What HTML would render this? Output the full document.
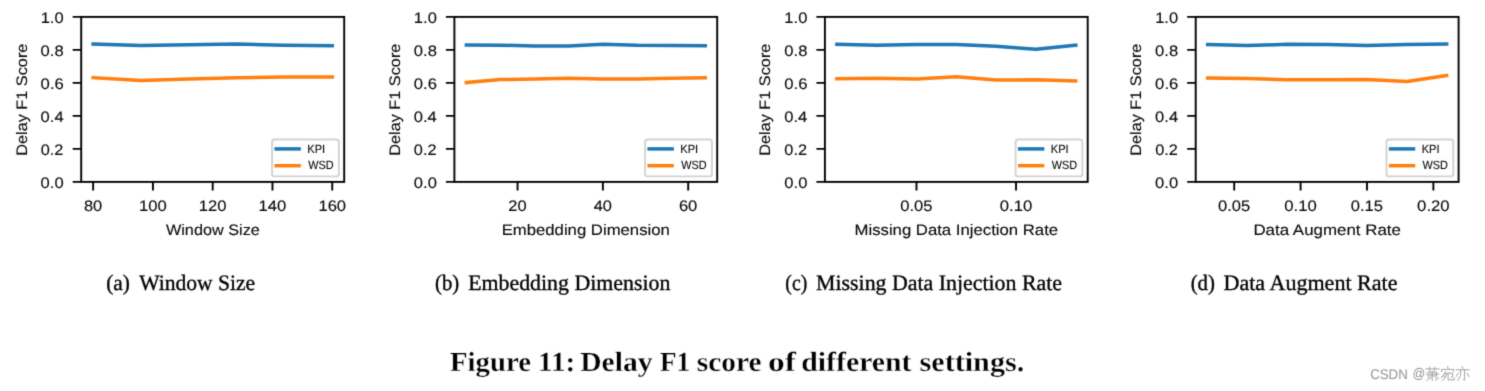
<!DOCTYPE html>
<html><head><meta charset="utf-8"><title>Figure 11</title><style>
html,body{margin:0;padding:0;background:#fff;}
body{width:1485px;height:391px;overflow:hidden;font-family:"Liberation Sans",sans-serif;}
svg{display:block;position:absolute;left:0;top:0;}
text{text-rendering:geometricPrecision;}
.m{stroke:#000;stroke-width:0.12px;}
.c{stroke:#000;stroke-width:0.35px;}
.t{stroke:#fff;stroke-width:0.3px;}
</style></head><body>
<svg width="1485" height="391" viewBox="0 0 1485 391">
<defs><filter id="soft" x="0" y="0" width="1485" height="391" filterUnits="userSpaceOnUse" color-interpolation-filters="sRGB"><feConvolveMatrix order="3" kernelMatrix="0.0192 0.1001 0.0192 0.1001 0.5228 0.1001 0.0192 0.1001 0.0192" edgeMode="none"/></filter></defs>
<rect width="1485" height="391" fill="#fff"/>
<g filter="url(#soft)">
<polyline points="93.15,44.05 140.97,45.46 188.79,44.7 236.61,44 284.43,45.14 332.25,45.84" fill="none" stroke="#1f77b4" stroke-width="3.5" stroke-linecap="square" stroke-linejoin="round"/>
<polyline points="93.15,77.67 140.97,80.42 188.79,78.95 236.61,77.8 284.43,77.03 332.25,76.9" fill="none" stroke="#ff7f0e" stroke-width="3.5" stroke-linecap="square" stroke-linejoin="round"/>
<rect x="81.2" y="16.9" width="263" height="165" fill="none" stroke="#000" stroke-width="1.9" stroke-linejoin="miter"/>
<path d="M72.7 181.9H81.2 M72.7 148.9H81.2 M72.7 115.9H81.2 M72.7 82.9H81.2 M72.7 49.9H81.2 M72.7 16.9H81.2 M93.15 181.9V190.4 M152.93 181.9V190.4 M212.7 181.9V190.4 M272.47 181.9V190.4 M332.25 181.9V190.4" stroke="#000" stroke-width="1.9" fill="none"/>
<text x="40.64" y="187.73" font-family='"Liberation Sans",sans-serif' font-size="15.2" textLength="23.02" lengthAdjust="spacingAndGlyphs" fill="#080808" class="m">0.0</text>
<text x="40.65" y="154.73" font-family='"Liberation Sans",sans-serif' font-size="15.2" textLength="22.68" lengthAdjust="spacingAndGlyphs" fill="#080808" class="m">0.2</text>
<text x="40.64" y="121.73" font-family='"Liberation Sans",sans-serif' font-size="15.2" textLength="23.01" lengthAdjust="spacingAndGlyphs" fill="#080808" class="m">0.4</text>
<text x="40.64" y="88.73" font-family='"Liberation Sans",sans-serif' font-size="15.2" textLength="23.16" lengthAdjust="spacingAndGlyphs" fill="#080808" class="m">0.6</text>
<text x="40.64" y="55.73" font-family='"Liberation Sans",sans-serif' font-size="15.2" textLength="23.06" lengthAdjust="spacingAndGlyphs" fill="#080808" class="m">0.8</text>
<text x="40.68" y="22.73" font-family='"Liberation Sans",sans-serif' font-size="15.2" textLength="22.97" lengthAdjust="spacingAndGlyphs" fill="#080808" class="m">1.0</text>
<text x="83.97" y="210.5" font-family='"Liberation Sans",sans-serif' font-size="15.2" textLength="18.32" lengthAdjust="spacingAndGlyphs" fill="#080808" class="m">80</text>
<text x="139.08" y="210.5" font-family='"Liberation Sans",sans-serif' font-size="15.2" textLength="27.73" lengthAdjust="spacingAndGlyphs" fill="#080808" class="m">100</text>
<text x="198.85" y="210.5" font-family='"Liberation Sans",sans-serif' font-size="15.2" textLength="27.73" lengthAdjust="spacingAndGlyphs" fill="#080808" class="m">120</text>
<text x="258.62" y="210.5" font-family='"Liberation Sans",sans-serif' font-size="15.2" textLength="27.73" lengthAdjust="spacingAndGlyphs" fill="#080808" class="m">140</text>
<text x="318.4" y="210.5" font-family='"Liberation Sans",sans-serif' font-size="15.2" textLength="27.73" lengthAdjust="spacingAndGlyphs" fill="#080808" class="m">160</text>
<text x="165.92" y="234.9" font-family='"Liberation Sans",sans-serif' font-size="15.2" textLength="93.9" lengthAdjust="spacingAndGlyphs" fill="#080808" class="m">Window Size</text>
<text transform="translate(26.6 155.76) rotate(-90)" x="0" y="0" font-family='"Liberation Sans",sans-serif' font-size="15.2" textLength="112.11" lengthAdjust="spacingAndGlyphs" fill="#080808" class="m">Delay F1 Score</text>
<rect x="272.1" y="139.57" width="66.8" height="36.83" rx="2.5" fill="#fff" stroke="#d2d2d2" stroke-width="1.9"/>
<path d="M276.2 148.9H299.1" stroke="#1f77b4" stroke-width="3.5" stroke-linecap="square"/>
<path d="M276.2 165.7H299.1" stroke="#ff7f0e" stroke-width="3.5" stroke-linecap="square"/>
<text x="307.29" y="152.7" font-family='"Liberation Sans",sans-serif' font-size="11.9" textLength="17.94" lengthAdjust="spacingAndGlyphs" fill="#080808" class="m">KPI</text>
<text x="308.15" y="168.5" font-family='"Liberation Sans",sans-serif' font-size="11.9" textLength="25.37" lengthAdjust="spacingAndGlyphs" fill="#080808" class="m">WSD</text>
<text x="106.16" y="289.6" font-family='"Liberation Serif",serif' font-size="22" textLength="23.67" lengthAdjust="spacingAndGlyphs" fill="#000" class="c">(a)</text>
<text x="139.18" y="289.6" font-family='"Liberation Serif",serif' font-size="22" textLength="115.96" lengthAdjust="spacingAndGlyphs" fill="#000" class="c">Window Size</text>
<polyline points="466.35,44.95 500.48,45.2 534.61,46.1 568.74,45.9 602.86,44.2 636.99,45.3 671.12,45.6 705.25,45.8" fill="none" stroke="#1f77b4" stroke-width="3.5" stroke-linecap="square" stroke-linejoin="round"/>
<polyline points="466.35,82.5 500.48,79.5 534.61,79.1 568.74,78.2 602.86,79.1 636.99,79.1 671.12,78.2 705.25,77.8" fill="none" stroke="#ff7f0e" stroke-width="3.5" stroke-linecap="square" stroke-linejoin="round"/>
<rect x="454.4" y="16.9" width="262.8" height="165" fill="none" stroke="#000" stroke-width="1.9" stroke-linejoin="miter"/>
<path d="M445.9 181.9H454.4 M445.9 148.9H454.4 M445.9 115.9H454.4 M445.9 82.9H454.4 M445.9 49.9H454.4 M445.9 16.9H454.4 M517.54 181.9V190.4 M602.86 181.9V190.4 M688.19 181.9V190.4" stroke="#000" stroke-width="1.9" fill="none"/>
<text x="413.84" y="187.73" font-family='"Liberation Sans",sans-serif' font-size="15.2" textLength="23.02" lengthAdjust="spacingAndGlyphs" fill="#080808" class="m">0.0</text>
<text x="413.85" y="154.73" font-family='"Liberation Sans",sans-serif' font-size="15.2" textLength="22.68" lengthAdjust="spacingAndGlyphs" fill="#080808" class="m">0.2</text>
<text x="413.84" y="121.73" font-family='"Liberation Sans",sans-serif' font-size="15.2" textLength="23.01" lengthAdjust="spacingAndGlyphs" fill="#080808" class="m">0.4</text>
<text x="413.84" y="88.73" font-family='"Liberation Sans",sans-serif' font-size="15.2" textLength="23.16" lengthAdjust="spacingAndGlyphs" fill="#080808" class="m">0.6</text>
<text x="413.84" y="55.73" font-family='"Liberation Sans",sans-serif' font-size="15.2" textLength="23.06" lengthAdjust="spacingAndGlyphs" fill="#080808" class="m">0.8</text>
<text x="413.88" y="22.73" font-family='"Liberation Sans",sans-serif' font-size="15.2" textLength="22.97" lengthAdjust="spacingAndGlyphs" fill="#080808" class="m">1.0</text>
<text x="508.32" y="210.5" font-family='"Liberation Sans",sans-serif' font-size="15.2" textLength="18.35" lengthAdjust="spacingAndGlyphs" fill="#080808" class="m">20</text>
<text x="593.74" y="210.5" font-family='"Liberation Sans",sans-serif' font-size="15.2" textLength="18.26" lengthAdjust="spacingAndGlyphs" fill="#080808" class="m">40</text>
<text x="678.91" y="210.5" font-family='"Liberation Sans",sans-serif' font-size="15.2" textLength="18.42" lengthAdjust="spacingAndGlyphs" fill="#080808" class="m">60</text>
<text x="501.67" y="234.9" font-family='"Liberation Sans",sans-serif' font-size="15.2" textLength="168.18" lengthAdjust="spacingAndGlyphs" fill="#080808" class="m">Embedding Dimension</text>
<text transform="translate(399.8 155.76) rotate(-90)" x="0" y="0" font-family='"Liberation Sans",sans-serif' font-size="15.2" textLength="112.11" lengthAdjust="spacingAndGlyphs" fill="#080808" class="m">Delay F1 Score</text>
<rect x="645.1" y="139.57" width="66.8" height="36.83" rx="2.5" fill="#fff" stroke="#d2d2d2" stroke-width="1.9"/>
<path d="M649.2 148.9H672.1" stroke="#1f77b4" stroke-width="3.5" stroke-linecap="square"/>
<path d="M649.2 165.7H672.1" stroke="#ff7f0e" stroke-width="3.5" stroke-linecap="square"/>
<text x="680.29" y="152.7" font-family='"Liberation Sans",sans-serif' font-size="11.9" textLength="17.94" lengthAdjust="spacingAndGlyphs" fill="#080808" class="m">KPI</text>
<text x="681.15" y="168.5" font-family='"Liberation Sans",sans-serif' font-size="11.9" textLength="25.37" lengthAdjust="spacingAndGlyphs" fill="#080808" class="m">WSD</text>
<text x="434.99" y="289.6" font-family='"Liberation Serif",serif' font-size="22" textLength="24.23" lengthAdjust="spacingAndGlyphs" fill="#000" class="c">(b)</text>
<text x="468.17" y="289.6" font-family='"Liberation Serif",serif' font-size="22" textLength="202.26" lengthAdjust="spacingAndGlyphs" fill="#000" class="c">Embedding Dimension</text>
<polyline points="836.85,44.3 876.66,45.3 916.48,44.4 956.3,44.6 996.12,46.35 1035.94,49.2 1075.75,45.1" fill="none" stroke="#1f77b4" stroke-width="3.5" stroke-linecap="square" stroke-linejoin="round"/>
<polyline points="836.85,78.8 876.66,78.2 916.48,79.1 956.3,76.8 996.12,80.1 1035.94,79.85 1075.75,81" fill="none" stroke="#ff7f0e" stroke-width="3.5" stroke-linecap="square" stroke-linejoin="round"/>
<rect x="824.9" y="16.9" width="262.8" height="165" fill="none" stroke="#000" stroke-width="1.9" stroke-linejoin="miter"/>
<path d="M816.4 181.9H824.9 M816.4 148.9H824.9 M816.4 115.9H824.9 M816.4 82.9H824.9 M816.4 49.9H824.9 M816.4 16.9H824.9 M916.48 181.9V190.4 M1016.03 181.9V190.4" stroke="#000" stroke-width="1.9" fill="none"/>
<text x="784.34" y="187.73" font-family='"Liberation Sans",sans-serif' font-size="15.2" textLength="23.02" lengthAdjust="spacingAndGlyphs" fill="#080808" class="m">0.0</text>
<text x="784.35" y="154.73" font-family='"Liberation Sans",sans-serif' font-size="15.2" textLength="22.68" lengthAdjust="spacingAndGlyphs" fill="#080808" class="m">0.2</text>
<text x="784.34" y="121.73" font-family='"Liberation Sans",sans-serif' font-size="15.2" textLength="23.01" lengthAdjust="spacingAndGlyphs" fill="#080808" class="m">0.4</text>
<text x="784.34" y="88.73" font-family='"Liberation Sans",sans-serif' font-size="15.2" textLength="23.16" lengthAdjust="spacingAndGlyphs" fill="#080808" class="m">0.6</text>
<text x="784.34" y="55.73" font-family='"Liberation Sans",sans-serif' font-size="15.2" textLength="23.06" lengthAdjust="spacingAndGlyphs" fill="#080808" class="m">0.8</text>
<text x="784.38" y="22.73" font-family='"Liberation Sans",sans-serif' font-size="15.2" textLength="22.97" lengthAdjust="spacingAndGlyphs" fill="#080808" class="m">1.0</text>
<text x="900.23" y="210.5" font-family='"Liberation Sans",sans-serif' font-size="15.2" textLength="32.23" lengthAdjust="spacingAndGlyphs" fill="#080808" class="m">0.05</text>
<text x="999.77" y="210.5" font-family='"Liberation Sans",sans-serif' font-size="15.2" textLength="32.51" lengthAdjust="spacingAndGlyphs" fill="#080808" class="m">0.10</text>
<text x="854.53" y="234.9" font-family='"Liberation Sans",sans-serif' font-size="15.2" textLength="203.58" lengthAdjust="spacingAndGlyphs" fill="#080808" class="m">Missing Data Injection Rate</text>
<text transform="translate(770.3 155.76) rotate(-90)" x="0" y="0" font-family='"Liberation Sans",sans-serif' font-size="15.2" textLength="112.11" lengthAdjust="spacingAndGlyphs" fill="#080808" class="m">Delay F1 Score</text>
<rect x="1015.6" y="139.57" width="66.8" height="36.83" rx="2.5" fill="#fff" stroke="#d2d2d2" stroke-width="1.9"/>
<path d="M1019.7 148.9H1042.6" stroke="#1f77b4" stroke-width="3.5" stroke-linecap="square"/>
<path d="M1019.7 165.7H1042.6" stroke="#ff7f0e" stroke-width="3.5" stroke-linecap="square"/>
<text x="1050.79" y="152.7" font-family='"Liberation Sans",sans-serif' font-size="11.9" textLength="17.94" lengthAdjust="spacingAndGlyphs" fill="#080808" class="m">KPI</text>
<text x="1051.65" y="168.5" font-family='"Liberation Sans",sans-serif' font-size="11.9" textLength="25.37" lengthAdjust="spacingAndGlyphs" fill="#080808" class="m">WSD</text>
<text x="785.33" y="289.6" font-family='"Liberation Serif",serif' font-size="22" textLength="21.94" lengthAdjust="spacingAndGlyphs" fill="#000" class="c">(c)</text>
<text x="816.07" y="289.6" font-family='"Liberation Serif",serif' font-size="22" textLength="245.89" lengthAdjust="spacingAndGlyphs" fill="#000" class="c">Missing Data Injection Rate</text>
<polyline points="1207.65,44.6 1247.48,45.6 1287.32,44.3 1327.15,44.6 1366.98,45.46 1406.82,44.6 1446.65,44.05" fill="none" stroke="#1f77b4" stroke-width="3.5" stroke-linecap="square" stroke-linejoin="round"/>
<polyline points="1207.65,77.9 1247.48,78.4 1287.32,79.85 1327.15,79.85 1366.98,79.5 1406.82,81.6 1446.65,75.6" fill="none" stroke="#ff7f0e" stroke-width="3.5" stroke-linecap="square" stroke-linejoin="round"/>
<rect x="1195.7" y="16.9" width="262.9" height="165" fill="none" stroke="#000" stroke-width="1.9" stroke-linejoin="miter"/>
<path d="M1187.2 181.9H1195.7 M1187.2 148.9H1195.7 M1187.2 115.9H1195.7 M1187.2 82.9H1195.7 M1187.2 49.9H1195.7 M1187.2 16.9H1195.7 M1234.21 181.9V190.4 M1300.59 181.9V190.4 M1366.98 181.9V190.4 M1433.37 181.9V190.4" stroke="#000" stroke-width="1.9" fill="none"/>
<text x="1155.14" y="187.73" font-family='"Liberation Sans",sans-serif' font-size="15.2" textLength="23.02" lengthAdjust="spacingAndGlyphs" fill="#080808" class="m">0.0</text>
<text x="1155.15" y="154.73" font-family='"Liberation Sans",sans-serif' font-size="15.2" textLength="22.68" lengthAdjust="spacingAndGlyphs" fill="#080808" class="m">0.2</text>
<text x="1155.14" y="121.73" font-family='"Liberation Sans",sans-serif' font-size="15.2" textLength="23.01" lengthAdjust="spacingAndGlyphs" fill="#080808" class="m">0.4</text>
<text x="1155.14" y="88.73" font-family='"Liberation Sans",sans-serif' font-size="15.2" textLength="23.16" lengthAdjust="spacingAndGlyphs" fill="#080808" class="m">0.6</text>
<text x="1155.14" y="55.73" font-family='"Liberation Sans",sans-serif' font-size="15.2" textLength="23.06" lengthAdjust="spacingAndGlyphs" fill="#080808" class="m">0.8</text>
<text x="1155.18" y="22.73" font-family='"Liberation Sans",sans-serif' font-size="15.2" textLength="22.97" lengthAdjust="spacingAndGlyphs" fill="#080808" class="m">1.0</text>
<text x="1217.95" y="210.5" font-family='"Liberation Sans",sans-serif' font-size="15.2" textLength="32.23" lengthAdjust="spacingAndGlyphs" fill="#080808" class="m">0.05</text>
<text x="1284.34" y="210.5" font-family='"Liberation Sans",sans-serif' font-size="15.2" textLength="32.51" lengthAdjust="spacingAndGlyphs" fill="#080808" class="m">0.10</text>
<text x="1350.73" y="210.5" font-family='"Liberation Sans",sans-serif' font-size="15.2" textLength="32.23" lengthAdjust="spacingAndGlyphs" fill="#080808" class="m">0.15</text>
<text x="1417.11" y="210.5" font-family='"Liberation Sans",sans-serif' font-size="15.2" textLength="32.51" lengthAdjust="spacingAndGlyphs" fill="#080808" class="m">0.20</text>
<text x="1253.43" y="234.9" font-family='"Liberation Sans",sans-serif' font-size="15.2" textLength="147.47" lengthAdjust="spacingAndGlyphs" fill="#080808" class="m">Data Augment Rate</text>
<text transform="translate(1141.1 155.76) rotate(-90)" x="0" y="0" font-family='"Liberation Sans",sans-serif' font-size="15.2" textLength="112.11" lengthAdjust="spacingAndGlyphs" fill="#080808" class="m">Delay F1 Score</text>
<rect x="1386.5" y="139.57" width="66.8" height="36.83" rx="2.5" fill="#fff" stroke="#d2d2d2" stroke-width="1.9"/>
<path d="M1390.6 148.9H1413.5" stroke="#1f77b4" stroke-width="3.5" stroke-linecap="square"/>
<path d="M1390.6 165.7H1413.5" stroke="#ff7f0e" stroke-width="3.5" stroke-linecap="square"/>
<text x="1421.69" y="152.7" font-family='"Liberation Sans",sans-serif' font-size="11.9" textLength="17.94" lengthAdjust="spacingAndGlyphs" fill="#080808" class="m">KPI</text>
<text x="1422.55" y="168.5" font-family='"Liberation Sans",sans-serif' font-size="11.9" textLength="25.37" lengthAdjust="spacingAndGlyphs" fill="#080808" class="m">WSD</text>
<text x="1190.68" y="289.6" font-family='"Liberation Serif",serif' font-size="22" textLength="24.33" lengthAdjust="spacingAndGlyphs" fill="#000" class="c">(d)</text>
<text x="1223.47" y="289.6" font-family='"Liberation Serif",serif' font-size="22" textLength="174.09" lengthAdjust="spacingAndGlyphs" fill="#000" class="c">Data Augment Rate</text>
<text x="450.01" y="371.2" font-family='"Liberation Serif",serif' font-size="27.6" font-weight="bold" textLength="80.93" lengthAdjust="spacingAndGlyphs" fill="#000" class="t">Figure</text>
<text x="538.07" y="371.2" font-family='"Liberation Serif",serif' font-size="27.6" font-weight="bold" textLength="37.12" lengthAdjust="spacingAndGlyphs" fill="#000" class="t">11:</text>
<text x="580.18" y="371.2" font-family='"Liberation Serif",serif' font-size="27.6" font-weight="bold" textLength="72.41" lengthAdjust="spacingAndGlyphs" fill="#000" class="t">Delay</text>
<text x="659.94" y="371.2" font-family='"Liberation Serif",serif' font-size="27.6" font-weight="bold" textLength="30.17" lengthAdjust="spacingAndGlyphs" fill="#000" class="t">F1</text>
<text x="696.72" y="371.2" font-family='"Liberation Serif",serif' font-size="27.6" font-weight="bold" textLength="64.84" lengthAdjust="spacingAndGlyphs" fill="#000" class="t">score</text>
<text x="768.03" y="371.2" font-family='"Liberation Serif",serif' font-size="27.6" font-weight="bold" textLength="27.85" lengthAdjust="spacingAndGlyphs" fill="#000" class="t">of</text>
<text x="801.3" y="371.2" font-family='"Liberation Serif",serif' font-size="27.6" font-weight="bold" textLength="110.23" lengthAdjust="spacingAndGlyphs" fill="#000" class="t">different</text>
<text x="919.59" y="371.2" font-family='"Liberation Serif",serif' font-size="27.6" font-weight="bold" textLength="104.64" lengthAdjust="spacingAndGlyphs" fill="#000" class="t">settings.</text>
<text x="1370.13" y="378.7" font-family='"Liberation Sans",sans-serif' font-size="14" textLength="37.66" lengthAdjust="spacingAndGlyphs" fill="#929292">CSDN</text>
<text x="1412.52" y="378" font-family='"Liberation Sans",sans-serif' font-size="14" textLength="12.66" lengthAdjust="spacingAndGlyphs" fill="#929292">@</text>
<path d="M1425.7 368.9 L1439.2 368.9 M1429.7 366.9 L1429.7 371.1 M1434.7 366.9 L1434.7 371.1 M1427.7 372.2 L1436.7 372.2 L1436.7 375.9 L1427.7 375.9 M1426 374.1 L1438.8 374.1 M1432.2 371.1 L1432.2 380.6 M1428.7 377.1 L1428.7 379.1 L1426.7 380.6 M1436 377.1 L1436 380.6 M1430.2 377.6 L1430.7 378.6 M1437.7 377.6 L1438.7 379.1 M1447.6 366.6 L1448.1 368.4 M1441.6 371.6 L1441.6 369.4 L1453.6 369.4 L1453.6 371.6 M1445.6 371.6 L1443.1 376.1 L1441.1 377.6 M1444.1 373.6 L1447.1 373.6 L1444.6 378.6 L1442.1 380.6 M1443.1 375.6 L1444.6 376.6 M1448.1 373.1 L1452.6 373.1 L1452.6 377.1 L1451.1 377.1 M1448.1 373.1 L1448.1 379.9 L1454.4 379.9 L1454.4 378.1 M1462.1 366.6 L1462.9 368.4 M1456.1 369.8 L1469.1 369.8 M1460.6 369.8 L1460.6 375.6 L1457.6 380.6 M1464.6 369.8 L1464.6 380.1 L1463.4 379.4 M1458.1 373.1 L1456.1 376.6 M1467.1 373.1 L1469.1 376.6" stroke="#9a9a9a" stroke-width="0.9" fill="none" stroke-linecap="round" stroke-linejoin="round"/>
</g>
</svg></body></html>
